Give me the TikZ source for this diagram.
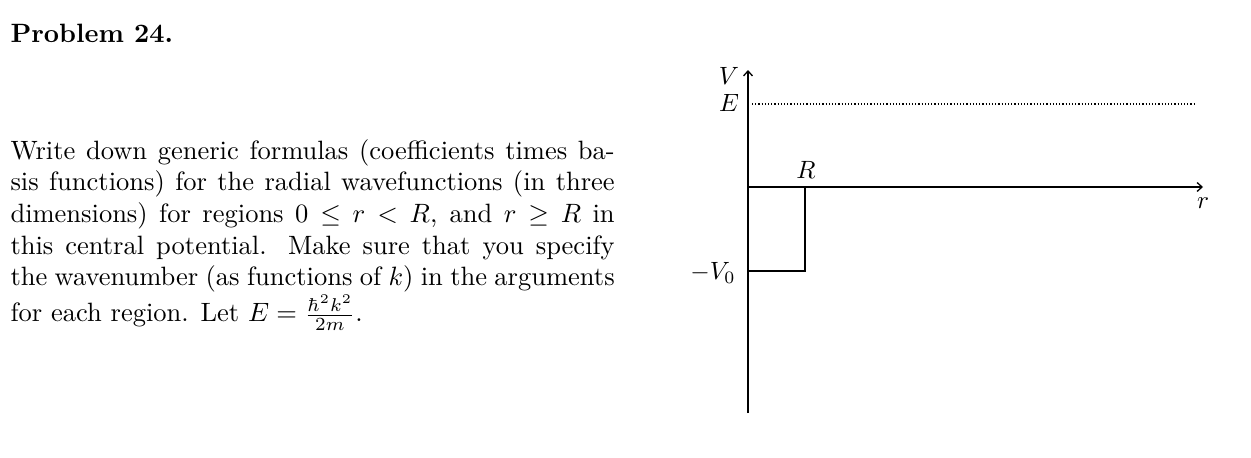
\documentclass[tikz,border=0pt]{standalone}
\usetikzlibrary{arrows.meta}
\begin{document}
\begin{tikzpicture}[x=1pt,y=-1pt,
  body/.style={font=\fontsize{10}{11.9}\selectfont, inner sep=0pt, scale=2.65, transform shape},
  lab/.style={font=\fontsize{10}{12}\selectfont, inner sep=0pt, scale=2.5, transform shape},
  ax/.style={line width=1.3pt}]
\useasboundingbox (0,0) rectangle (1251,458);
\node[body, anchor=base west, font=\fontsize{10}{12}\selectfont\bfseries] (title) at (10,42) {Problem 24.};
\node[body, anchor=north west, text width=228pt, align=justify] (txt) at (10,139)
 {Write down generic formulas (coefficients times ba\-sis functions) for the radial wavefunctions (in three dimensions) for regions $0\le r<R$, and $r\ge R$ in this central potential. Make sure that you specify the wavenumber (as functions of $k$) in the arguments for each region. Let $E=\frac{\hbar^2k^2}{2m}$.};
\coordinate (o) at (748,187);
\coordinate (bot) at (748,413);
\coordinate (top) at (748,70);
\coordinate (rend) at (1203,187);
\draw[ax,-{Straight Barb[length=5pt,width=9pt]}] (bot) -- (top);
\draw[ax,-{Straight Barb[length=5pt,width=9pt]}] (o) -- (rend);
\node[lab] (V) at (729,76) {$V$};
\node[lab] (E) at (729,103) {$E$};
\node[lab] (r) at (1203,203) {$r$};
\node[lab] (R) at (806,170) {$R$};
\node[lab] (V0) at (713,273) {$-V_0$};
\coordinate (e1) at (752,104);
\coordinate (e2) at (1196,104);
\draw[line width=1.2pt, dotted] (e1) -- (e2);
\coordinate (s1) at (805,187);
\coordinate (s2) at (805,271);
\coordinate (s3) at (748,271);
\draw[ax] (s1) -- (s2) -- (s3);
\end{tikzpicture}
\end{document}
